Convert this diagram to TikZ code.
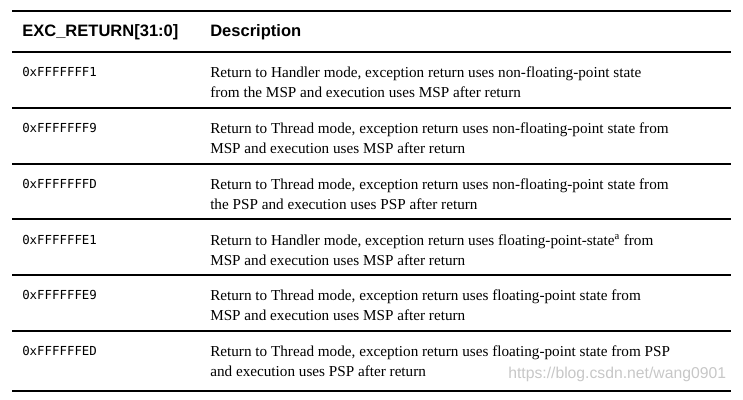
\documentclass[tikz,border=0pt]{standalone}
\usepackage{fontspec}
\setmainfont{Liberation Serif}
\setsansfont{Liberation Sans}
\setmonofont{DejaVu Sans Mono}
\begin{document}
\begin{tikzpicture}[x=0.75pt, y=-0.75pt,
  every node/.style={inner sep=0pt, anchor=base west},
  rule/.style={line width=0.9pt},
  code/.style={font=\ttfamily\fontsize{9.3}{10}\selectfont},
  desc/.style={font=\fontsize{11.4}{15}\selectfont, align=left},
  head/.style={font=\sffamily\bfseries\fontsize{12.4}{14}\selectfont}
]
  \useasboundingbox (0,0) rectangle (743,400);
  % rules
  \foreach \y in {11,52,108,164,219,275,331,391}
    \draw[rule] (12,\y) -- (731,\y);
  % header
  \node[head] (hcode) at (22,36) {EXC\_RETURN[31:0]};
  \node[head] (hdesc) at (210,36) {Description};
  % rows
  \node[code] (c1) at (22,76) {0xFFFFFFF1};
  \node[desc] (d1) at (210,97) {Return to Handler mode, exception return uses non-floating-point state\\from the MSP and execution uses MSP after return};
  \node[code] (c2) at (22,132) {0xFFFFFFF9};
  \node[desc] (d2) at (210,153) {Return to Thread mode, exception return uses non-floating-point state from\\MSP and execution uses MSP after return};
  \node[code] (c3) at (22,188) {0xFFFFFFFD};
  \node[desc] (d3) at (210,209) {Return to Thread mode, exception return uses non-floating-point state from\\the PSP and execution uses PSP after return};
  \node[code] (c4) at (22,244) {0xFFFFFFE1};
  \node[desc] (d4) at (210,265) {Return to Handler mode, exception return uses floating-point-state\textsuperscript{a} from\\MSP and execution uses MSP after return};
  \node[code] (c5) at (22,299) {0xFFFFFFE9};
  \node[desc] (d5) at (210,320) {Return to Thread mode, exception return uses floating-point state from\\MSP and execution uses MSP after return};
  \node[code] (c6) at (22,355) {0xFFFFFFED};
  \node[desc] (d6) at (210,376) {Return to Thread mode, exception return uses floating-point state from PSP\\and execution uses PSP after return};
  % watermark
  \node[font=\sffamily\fontsize{11.8}{12}\selectfont, text=black!22] (wm) at (508,378) {https://blog.csdn.net/wang0901};
\end{tikzpicture}
\end{document}
